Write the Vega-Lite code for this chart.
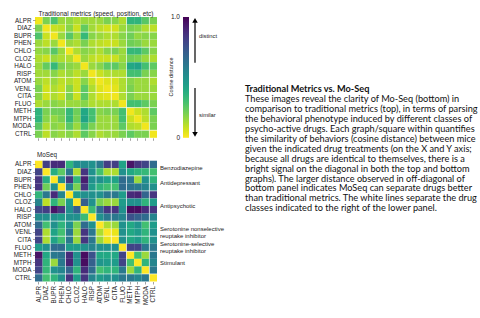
{
"$schema":"https://vega.github.io/schema/vega-lite/v6.json",
"width":122,"height":264.5,
"autosize":{"type":"none"},
"padding":{"left":35,"top":17,"right":323,"bottom":36.5},
"background":"white",
"config":{"view":{"stroke":null},"font":"Liberation Sans",
 "axis":{"labelFont":"Liberation Sans","labelFontSize":6.3,"labelColor":"#222","tickColor":"#666","tickSize":2.5,"tickWidth":0.6,"domain":false,"grid":false,"labelPadding":1.5}},
"title":{"text":"Traditional Metrics vs. Mo-Seq","subtitle":["These images reveal the clarity of Mo-Seq (bottom) in","comparison to traditional metrics (top), in terms of parsing","the behavioral phenotype induced by different classes of","psycho-active drugs. Each graph/square within quantifies","the similarity of behaviors (cosine distance) between mice","given the indicated drug treatments (on the X and Y axis;","because all drugs are identical to themselves, there is a","bright signal on the diagonal in both the top and bottom","graphs). The larger distance observed in off-diagonal of","bottom panel indicates MoSeq can separate drugs better","than traditional metrics. The white lines separate the drug","classes indicated to the right of the lower panel."],
 "anchor":"start","frame":"group","orient":"top","offset":0,"dx":210,"dy":203,"align":"left",
 "font":"Lato","fontSize":9.2,"fontWeight":"bold","color":"#111",
 "subtitleFont":"Lato","subtitleFontSize":9.2,"subtitleColor":"#111","subtitleLineHeight":9.9,"subtitlePadding":0.8},
"datasets":{
"trad":[
{"r":"ALPR","c":"ALPR","v":0.02},{"r":"ALPR","c":"DIAZ","v":0.2},{"r":"ALPR","c":"BUPR","v":0.28},{"r":"ALPR","c":"PHEN","v":0.15},{"r":"ALPR","c":"CHLO","v":0.16},{"r":"ALPR","c":"CLOZ","v":0.12},{"r":"ALPR","c":"HALO","v":0.15},{"r":"ALPR","c":"RISP","v":0.14},{"r":"ALPR","c":"ATOM","v":0.15},{"r":"ALPR","c":"VENL","v":0.2},{"r":"ALPR","c":"CITA","v":0.18},{"r":"ALPR","c":"FLUO","v":0.12},{"r":"ALPR","c":"METH","v":0.35},{"r":"ALPR","c":"MTPH","v":0.35},{"r":"ALPR","c":"MODA","v":0.26},{"r":"ALPR","c":"CTRL","v":0.2},
{"r":"DIAZ","c":"ALPR","v":0.2},{"r":"DIAZ","c":"DIAZ","v":0.02},{"r":"DIAZ","c":"BUPR","v":0.08},{"r":"DIAZ","c":"PHEN","v":0.1},{"r":"DIAZ","c":"CHLO","v":0.18},{"r":"DIAZ","c":"CLOZ","v":0.08},{"r":"DIAZ","c":"HALO","v":0.24},{"r":"DIAZ","c":"RISP","v":0.14},{"r":"DIAZ","c":"ATOM","v":0.1},{"r":"DIAZ","c":"VENL","v":0.07},{"r":"DIAZ","c":"CITA","v":0.07},{"r":"DIAZ","c":"FLUO","v":0.15},{"r":"DIAZ","c":"METH","v":0.2},{"r":"DIAZ","c":"MTPH","v":0.18},{"r":"DIAZ","c":"MODA","v":0.12},{"r":"DIAZ","c":"CTRL","v":0.1},
{"r":"BUPR","c":"ALPR","v":0.28},{"r":"BUPR","c":"DIAZ","v":0.08},{"r":"BUPR","c":"BUPR","v":0.02},{"r":"BUPR","c":"PHEN","v":0.15},{"r":"BUPR","c":"CHLO","v":0.26},{"r":"BUPR","c":"CLOZ","v":0.15},{"r":"BUPR","c":"HALO","v":0.33},{"r":"BUPR","c":"RISP","v":0.18},{"r":"BUPR","c":"ATOM","v":0.15},{"r":"BUPR","c":"VENL","v":0.12},{"r":"BUPR","c":"CITA","v":0.12},{"r":"BUPR","c":"FLUO","v":0.18},{"r":"BUPR","c":"METH","v":0.22},{"r":"BUPR","c":"MTPH","v":0.16},{"r":"BUPR","c":"MODA","v":0.18},{"r":"BUPR","c":"CTRL","v":0.18},
{"r":"PHEN","c":"ALPR","v":0.15},{"r":"PHEN","c":"DIAZ","v":0.1},{"r":"PHEN","c":"BUPR","v":0.15},{"r":"PHEN","c":"PHEN","v":0.02},{"r":"PHEN","c":"CHLO","v":0.15},{"r":"PHEN","c":"CLOZ","v":0.12},{"r":"PHEN","c":"HALO","v":0.2},{"r":"PHEN","c":"RISP","v":0.12},{"r":"PHEN","c":"ATOM","v":0.1},{"r":"PHEN","c":"VENL","v":0.08},{"r":"PHEN","c":"CITA","v":0.08},{"r":"PHEN","c":"FLUO","v":0.15},{"r":"PHEN","c":"METH","v":0.22},{"r":"PHEN","c":"MTPH","v":0.2},{"r":"PHEN","c":"MODA","v":0.15},{"r":"PHEN","c":"CTRL","v":0.15},
{"r":"CHLO","c":"ALPR","v":0.16},{"r":"CHLO","c":"DIAZ","v":0.18},{"r":"CHLO","c":"BUPR","v":0.26},{"r":"CHLO","c":"PHEN","v":0.15},{"r":"CHLO","c":"CHLO","v":0.02},{"r":"CHLO","c":"CLOZ","v":0.12},{"r":"CHLO","c":"HALO","v":0.18},{"r":"CHLO","c":"RISP","v":0.15},{"r":"CHLO","c":"ATOM","v":0.12},{"r":"CHLO","c":"VENL","v":0.18},{"r":"CHLO","c":"CITA","v":0.2},{"r":"CHLO","c":"FLUO","v":0.15},{"r":"CHLO","c":"METH","v":0.33},{"r":"CHLO","c":"MTPH","v":0.33},{"r":"CHLO","c":"MODA","v":0.25},{"r":"CHLO","c":"CTRL","v":0.18},
{"r":"CLOZ","c":"ALPR","v":0.12},{"r":"CLOZ","c":"DIAZ","v":0.08},{"r":"CLOZ","c":"BUPR","v":0.15},{"r":"CLOZ","c":"PHEN","v":0.12},{"r":"CLOZ","c":"CHLO","v":0.12},{"r":"CLOZ","c":"CLOZ","v":0.02},{"r":"CLOZ","c":"HALO","v":0.15},{"r":"CLOZ","c":"RISP","v":0.1},{"r":"CLOZ","c":"ATOM","v":0.08},{"r":"CLOZ","c":"VENL","v":0.08},{"r":"CLOZ","c":"CITA","v":0.08},{"r":"CLOZ","c":"FLUO","v":0.15},{"r":"CLOZ","c":"METH","v":0.22},{"r":"CLOZ","c":"MTPH","v":0.2},{"r":"CLOZ","c":"MODA","v":0.15},{"r":"CLOZ","c":"CTRL","v":0.12},
{"r":"HALO","c":"ALPR","v":0.15},{"r":"HALO","c":"DIAZ","v":0.24},{"r":"HALO","c":"BUPR","v":0.33},{"r":"HALO","c":"PHEN","v":0.2},{"r":"HALO","c":"CHLO","v":0.18},{"r":"HALO","c":"CLOZ","v":0.15},{"r":"HALO","c":"HALO","v":0.02},{"r":"HALO","c":"RISP","v":0.15},{"r":"HALO","c":"ATOM","v":0.18},{"r":"HALO","c":"VENL","v":0.25},{"r":"HALO","c":"CITA","v":0.25},{"r":"HALO","c":"FLUO","v":0.18},{"r":"HALO","c":"METH","v":0.4},{"r":"HALO","c":"MTPH","v":0.42},{"r":"HALO","c":"MODA","v":0.3},{"r":"HALO","c":"CTRL","v":0.25},
{"r":"RISP","c":"ALPR","v":0.14},{"r":"RISP","c":"DIAZ","v":0.14},{"r":"RISP","c":"BUPR","v":0.18},{"r":"RISP","c":"PHEN","v":0.12},{"r":"RISP","c":"CHLO","v":0.15},{"r":"RISP","c":"CLOZ","v":0.1},{"r":"RISP","c":"HALO","v":0.15},{"r":"RISP","c":"RISP","v":0.02},{"r":"RISP","c":"ATOM","v":0.08},{"r":"RISP","c":"VENL","v":0.12},{"r":"RISP","c":"CITA","v":0.12},{"r":"RISP","c":"FLUO","v":0.12},{"r":"RISP","c":"METH","v":0.3},{"r":"RISP","c":"MTPH","v":0.3},{"r":"RISP","c":"MODA","v":0.2},{"r":"RISP","c":"CTRL","v":0.18},
{"r":"ATOM","c":"ALPR","v":0.15},{"r":"ATOM","c":"DIAZ","v":0.1},{"r":"ATOM","c":"BUPR","v":0.15},{"r":"ATOM","c":"PHEN","v":0.1},{"r":"ATOM","c":"CHLO","v":0.12},{"r":"ATOM","c":"CLOZ","v":0.08},{"r":"ATOM","c":"HALO","v":0.18},{"r":"ATOM","c":"RISP","v":0.08},{"r":"ATOM","c":"ATOM","v":0.02},{"r":"ATOM","c":"VENL","v":0.05},{"r":"ATOM","c":"CITA","v":0.06},{"r":"ATOM","c":"FLUO","v":0.12},{"r":"ATOM","c":"METH","v":0.18},{"r":"ATOM","c":"MTPH","v":0.15},{"r":"ATOM","c":"MODA","v":0.15},{"r":"ATOM","c":"CTRL","v":0.12},
{"r":"VENL","c":"ALPR","v":0.2},{"r":"VENL","c":"DIAZ","v":0.07},{"r":"VENL","c":"BUPR","v":0.12},{"r":"VENL","c":"PHEN","v":0.08},{"r":"VENL","c":"CHLO","v":0.18},{"r":"VENL","c":"CLOZ","v":0.08},{"r":"VENL","c":"HALO","v":0.25},{"r":"VENL","c":"RISP","v":0.12},{"r":"VENL","c":"ATOM","v":0.05},{"r":"VENL","c":"VENL","v":0.02},{"r":"VENL","c":"CITA","v":0.04},{"r":"VENL","c":"FLUO","v":0.12},{"r":"VENL","c":"METH","v":0.2},{"r":"VENL","c":"MTPH","v":0.15},{"r":"VENL","c":"MODA","v":0.15},{"r":"VENL","c":"CTRL","v":0.15},
{"r":"CITA","c":"ALPR","v":0.18},{"r":"CITA","c":"DIAZ","v":0.07},{"r":"CITA","c":"BUPR","v":0.12},{"r":"CITA","c":"PHEN","v":0.08},{"r":"CITA","c":"CHLO","v":0.2},{"r":"CITA","c":"CLOZ","v":0.08},{"r":"CITA","c":"HALO","v":0.25},{"r":"CITA","c":"RISP","v":0.12},{"r":"CITA","c":"ATOM","v":0.06},{"r":"CITA","c":"VENL","v":0.04},{"r":"CITA","c":"CITA","v":0.02},{"r":"CITA","c":"FLUO","v":0.12},{"r":"CITA","c":"METH","v":0.2},{"r":"CITA","c":"MTPH","v":0.15},{"r":"CITA","c":"MODA","v":0.15},{"r":"CITA","c":"CTRL","v":0.15},
{"r":"FLUO","c":"ALPR","v":0.12},{"r":"FLUO","c":"DIAZ","v":0.15},{"r":"FLUO","c":"BUPR","v":0.18},{"r":"FLUO","c":"PHEN","v":0.15},{"r":"FLUO","c":"CHLO","v":0.15},{"r":"FLUO","c":"CLOZ","v":0.15},{"r":"FLUO","c":"HALO","v":0.18},{"r":"FLUO","c":"RISP","v":0.12},{"r":"FLUO","c":"ATOM","v":0.12},{"r":"FLUO","c":"VENL","v":0.12},{"r":"FLUO","c":"CITA","v":0.12},{"r":"FLUO","c":"FLUO","v":0.02},{"r":"FLUO","c":"METH","v":0.3},{"r":"FLUO","c":"MTPH","v":0.3},{"r":"FLUO","c":"MODA","v":0.25},{"r":"FLUO","c":"CTRL","v":0.2},
{"r":"METH","c":"ALPR","v":0.35},{"r":"METH","c":"DIAZ","v":0.2},{"r":"METH","c":"BUPR","v":0.22},{"r":"METH","c":"PHEN","v":0.22},{"r":"METH","c":"CHLO","v":0.33},{"r":"METH","c":"CLOZ","v":0.22},{"r":"METH","c":"HALO","v":0.4},{"r":"METH","c":"RISP","v":0.3},{"r":"METH","c":"ATOM","v":0.18},{"r":"METH","c":"VENL","v":0.2},{"r":"METH","c":"CITA","v":0.2},{"r":"METH","c":"FLUO","v":0.3},{"r":"METH","c":"METH","v":0.02},{"r":"METH","c":"MTPH","v":0.08},{"r":"METH","c":"MODA","v":0.12},{"r":"METH","c":"CTRL","v":0.25},
{"r":"MTPH","c":"ALPR","v":0.35},{"r":"MTPH","c":"DIAZ","v":0.18},{"r":"MTPH","c":"BUPR","v":0.16},{"r":"MTPH","c":"PHEN","v":0.2},{"r":"MTPH","c":"CHLO","v":0.33},{"r":"MTPH","c":"CLOZ","v":0.2},{"r":"MTPH","c":"HALO","v":0.42},{"r":"MTPH","c":"RISP","v":0.3},{"r":"MTPH","c":"ATOM","v":0.15},{"r":"MTPH","c":"VENL","v":0.15},{"r":"MTPH","c":"CITA","v":0.15},{"r":"MTPH","c":"FLUO","v":0.3},{"r":"MTPH","c":"METH","v":0.08},{"r":"MTPH","c":"MTPH","v":0.02},{"r":"MTPH","c":"MODA","v":0.1},{"r":"MTPH","c":"CTRL","v":0.2},
{"r":"MODA","c":"ALPR","v":0.26},{"r":"MODA","c":"DIAZ","v":0.12},{"r":"MODA","c":"BUPR","v":0.18},{"r":"MODA","c":"PHEN","v":0.15},{"r":"MODA","c":"CHLO","v":0.25},{"r":"MODA","c":"CLOZ","v":0.15},{"r":"MODA","c":"HALO","v":0.3},{"r":"MODA","c":"RISP","v":0.2},{"r":"MODA","c":"ATOM","v":0.15},{"r":"MODA","c":"VENL","v":0.15},{"r":"MODA","c":"CITA","v":0.15},{"r":"MODA","c":"FLUO","v":0.25},{"r":"MODA","c":"METH","v":0.12},{"r":"MODA","c":"MTPH","v":0.1},{"r":"MODA","c":"MODA","v":0.02},{"r":"MODA","c":"CTRL","v":0.2},
{"r":"CTRL","c":"ALPR","v":0.2},{"r":"CTRL","c":"DIAZ","v":0.1},{"r":"CTRL","c":"BUPR","v":0.18},{"r":"CTRL","c":"PHEN","v":0.15},{"r":"CTRL","c":"CHLO","v":0.18},{"r":"CTRL","c":"CLOZ","v":0.12},{"r":"CTRL","c":"HALO","v":0.25},{"r":"CTRL","c":"RISP","v":0.18},{"r":"CTRL","c":"ATOM","v":0.12},{"r":"CTRL","c":"VENL","v":0.15},{"r":"CTRL","c":"CITA","v":0.15},{"r":"CTRL","c":"FLUO","v":0.2},{"r":"CTRL","c":"METH","v":0.25},{"r":"CTRL","c":"MTPH","v":0.2},{"r":"CTRL","c":"MODA","v":0.2},{"r":"CTRL","c":"CTRL","v":0.02}
],
"moseq":[
{"r":"ALPR","c":"ALPR","v":0},{"r":"ALPR","c":"DIAZ","v":0.82},{"r":"ALPR","c":"BUPR","v":0.88},{"r":"ALPR","c":"PHEN","v":0.88},{"r":"ALPR","c":"CHLO","v":0.35},{"r":"ALPR","c":"CLOZ","v":0.52},{"r":"ALPR","c":"HALO","v":0.52},{"r":"ALPR","c":"RISP","v":0.5},{"r":"ALPR","c":"ATOM","v":0.6},{"r":"ALPR","c":"VENL","v":0.82},{"r":"ALPR","c":"CITA","v":0.82},{"r":"ALPR","c":"FLUO","v":0.42},{"r":"ALPR","c":"METH","v":0.95},{"r":"ALPR","c":"MTPH","v":0.85},{"r":"ALPR","c":"MODA","v":0.8},{"r":"ALPR","c":"CTRL","v":0.65},
{"r":"DIAZ","c":"ALPR","v":0.8},{"r":"DIAZ","c":"DIAZ","v":0},{"r":"DIAZ","c":"BUPR","v":0.38},{"r":"DIAZ","c":"PHEN","v":0.25},{"r":"DIAZ","c":"CHLO","v":0.6},{"r":"DIAZ","c":"CLOZ","v":0.12},{"r":"DIAZ","c":"HALO","v":0.85},{"r":"DIAZ","c":"RISP","v":0.5},{"r":"DIAZ","c":"ATOM","v":0.3},{"r":"DIAZ","c":"VENL","v":0.12},{"r":"DIAZ","c":"CITA","v":0.12},{"r":"DIAZ","c":"FLUO","v":0.5},{"r":"DIAZ","c":"METH","v":0.4},{"r":"DIAZ","c":"MTPH","v":0.35},{"r":"DIAZ","c":"MODA","v":0.33},{"r":"DIAZ","c":"CTRL","v":0.3},
{"r":"BUPR","c":"ALPR","v":0.85},{"r":"BUPR","c":"DIAZ","v":0.38},{"r":"BUPR","c":"BUPR","v":0},{"r":"BUPR","c":"PHEN","v":0.5},{"r":"BUPR","c":"CHLO","v":0.85},{"r":"BUPR","c":"CLOZ","v":0.35},{"r":"BUPR","c":"HALO","v":0.92},{"r":"BUPR","c":"RISP","v":0.5},{"r":"BUPR","c":"ATOM","v":0.5},{"r":"BUPR","c":"VENL","v":0.42},{"r":"BUPR","c":"CITA","v":0.42},{"r":"BUPR","c":"FLUO","v":0.65},{"r":"BUPR","c":"METH","v":0.6},{"r":"BUPR","c":"MTPH","v":0.15},{"r":"BUPR","c":"MODA","v":0.5},{"r":"BUPR","c":"CTRL","v":0.35},
{"r":"PHEN","c":"ALPR","v":0.85},{"r":"PHEN","c":"DIAZ","v":0.22},{"r":"PHEN","c":"BUPR","v":0.5},{"r":"PHEN","c":"PHEN","v":0},{"r":"PHEN","c":"CHLO","v":0.55},{"r":"PHEN","c":"CLOZ","v":0.2},{"r":"PHEN","c":"HALO","v":0.85},{"r":"PHEN","c":"RISP","v":0.45},{"r":"PHEN","c":"ATOM","v":0.35},{"r":"PHEN","c":"VENL","v":0.3},{"r":"PHEN","c":"CITA","v":0.3},{"r":"PHEN","c":"FLUO","v":0.65},{"r":"PHEN","c":"METH","v":0.62},{"r":"PHEN","c":"MTPH","v":0.6},{"r":"PHEN","c":"MODA","v":0.55},{"r":"PHEN","c":"CTRL","v":0.5},
{"r":"CHLO","c":"ALPR","v":0.35},{"r":"CHLO","c":"DIAZ","v":0.6},{"r":"CHLO","c":"BUPR","v":0.88},{"r":"CHLO","c":"PHEN","v":0.55},{"r":"CHLO","c":"CHLO","v":0},{"r":"CHLO","c":"CLOZ","v":0.45},{"r":"CHLO","c":"HALO","v":0.5},{"r":"CHLO","c":"RISP","v":0.5},{"r":"CHLO","c":"ATOM","v":0.5},{"r":"CHLO","c":"VENL","v":0.6},{"r":"CHLO","c":"CITA","v":0.6},{"r":"CHLO","c":"FLUO","v":0.45},{"r":"CHLO","c":"METH","v":0.88},{"r":"CHLO","c":"MTPH","v":0.9},{"r":"CHLO","c":"MODA","v":0.68},{"r":"CHLO","c":"CTRL","v":0.85},
{"r":"CLOZ","c":"ALPR","v":0.55},{"r":"CLOZ","c":"DIAZ","v":0.1},{"r":"CLOZ","c":"BUPR","v":0.35},{"r":"CLOZ","c":"PHEN","v":0.2},{"r":"CLOZ","c":"CHLO","v":0.45},{"r":"CLOZ","c":"CLOZ","v":0},{"r":"CLOZ","c":"HALO","v":0.7},{"r":"CLOZ","c":"RISP","v":0.5},{"r":"CLOZ","c":"ATOM","v":0.2},{"r":"CLOZ","c":"VENL","v":0.15},{"r":"CLOZ","c":"CITA","v":0.15},{"r":"CLOZ","c":"FLUO","v":0.45},{"r":"CLOZ","c":"METH","v":0.5},{"r":"CLOZ","c":"MTPH","v":0.5},{"r":"CLOZ","c":"MODA","v":0.35},{"r":"CLOZ","c":"CTRL","v":0.45},
{"r":"HALO","c":"ALPR","v":0.78},{"r":"HALO","c":"DIAZ","v":0.82},{"r":"HALO","c":"BUPR","v":0.95},{"r":"HALO","c":"PHEN","v":0.85},{"r":"HALO","c":"CHLO","v":0.5},{"r":"HALO","c":"CLOZ","v":0.7},{"r":"HALO","c":"HALO","v":0},{"r":"HALO","c":"RISP","v":0.32},{"r":"HALO","c":"ATOM","v":0.65},{"r":"HALO","c":"VENL","v":0.85},{"r":"HALO","c":"CITA","v":0.85},{"r":"HALO","c":"FLUO","v":0.5},{"r":"HALO","c":"METH","v":0.97},{"r":"HALO","c":"MTPH","v":0.97},{"r":"HALO","c":"MODA","v":0.88},{"r":"HALO","c":"CTRL","v":0.85},
{"r":"RISP","c":"ALPR","v":0.52},{"r":"RISP","c":"DIAZ","v":0.5},{"r":"RISP","c":"BUPR","v":0.5},{"r":"RISP","c":"PHEN","v":0.45},{"r":"RISP","c":"CHLO","v":0.5},{"r":"RISP","c":"CLOZ","v":0.5},{"r":"RISP","c":"HALO","v":0.32},{"r":"RISP","c":"RISP","v":0},{"r":"RISP","c":"ATOM","v":0.5},{"r":"RISP","c":"VENL","v":0.6},{"r":"RISP","c":"CITA","v":0.6},{"r":"RISP","c":"FLUO","v":0.55},{"r":"RISP","c":"METH","v":0.75},{"r":"RISP","c":"MTPH","v":0.7},{"r":"RISP","c":"MODA","v":0.65},{"r":"RISP","c":"CTRL","v":0.55},
{"r":"ATOM","c":"ALPR","v":0.65},{"r":"ATOM","c":"DIAZ","v":0.3},{"r":"ATOM","c":"BUPR","v":0.5},{"r":"ATOM","c":"PHEN","v":0.35},{"r":"ATOM","c":"CHLO","v":0.5},{"r":"ATOM","c":"CLOZ","v":0.2},{"r":"ATOM","c":"HALO","v":0.65},{"r":"ATOM","c":"RISP","v":0.5},{"r":"ATOM","c":"ATOM","v":0},{"r":"ATOM","c":"VENL","v":0.12},{"r":"ATOM","c":"CITA","v":0.15},{"r":"ATOM","c":"FLUO","v":0.5},{"r":"ATOM","c":"METH","v":0.4},{"r":"ATOM","c":"MTPH","v":0.48},{"r":"ATOM","c":"MODA","v":0.3},{"r":"ATOM","c":"CTRL","v":0.45},
{"r":"VENL","c":"ALPR","v":0.8},{"r":"VENL","c":"DIAZ","v":0.12},{"r":"VENL","c":"BUPR","v":0.42},{"r":"VENL","c":"PHEN","v":0.3},{"r":"VENL","c":"CHLO","v":0.6},{"r":"VENL","c":"CLOZ","v":0.15},{"r":"VENL","c":"HALO","v":0.85},{"r":"VENL","c":"RISP","v":0.6},{"r":"VENL","c":"ATOM","v":0.12},{"r":"VENL","c":"VENL","v":0},{"r":"VENL","c":"CITA","v":0.03},{"r":"VENL","c":"FLUO","v":0.5},{"r":"VENL","c":"METH","v":0.4},{"r":"VENL","c":"MTPH","v":0.45},{"r":"VENL","c":"MODA","v":0.35},{"r":"VENL","c":"CTRL","v":0.5},
{"r":"CITA","c":"ALPR","v":0.8},{"r":"CITA","c":"DIAZ","v":0.12},{"r":"CITA","c":"BUPR","v":0.42},{"r":"CITA","c":"PHEN","v":0.3},{"r":"CITA","c":"CHLO","v":0.6},{"r":"CITA","c":"CLOZ","v":0.15},{"r":"CITA","c":"HALO","v":0.85},{"r":"CITA","c":"RISP","v":0.6},{"r":"CITA","c":"ATOM","v":0.15},{"r":"CITA","c":"VENL","v":0.03},{"r":"CITA","c":"CITA","v":0},{"r":"CITA","c":"FLUO","v":0.5},{"r":"CITA","c":"METH","v":0.4},{"r":"CITA","c":"MTPH","v":0.45},{"r":"CITA","c":"MODA","v":0.35},{"r":"CITA","c":"CTRL","v":0.5},
{"r":"FLUO","c":"ALPR","v":0.45},{"r":"FLUO","c":"DIAZ","v":0.5},{"r":"FLUO","c":"BUPR","v":0.65},{"r":"FLUO","c":"PHEN","v":0.65},{"r":"FLUO","c":"CHLO","v":0.45},{"r":"FLUO","c":"CLOZ","v":0.45},{"r":"FLUO","c":"HALO","v":0.5},{"r":"FLUO","c":"RISP","v":0.55},{"r":"FLUO","c":"ATOM","v":0.5},{"r":"FLUO","c":"VENL","v":0.5},{"r":"FLUO","c":"CITA","v":0.5},{"r":"FLUO","c":"FLUO","v":0},{"r":"FLUO","c":"METH","v":0.8},{"r":"FLUO","c":"MTPH","v":0.8},{"r":"FLUO","c":"MODA","v":0.6},{"r":"FLUO","c":"CTRL","v":0.6},
{"r":"METH","c":"ALPR","v":0.95},{"r":"METH","c":"DIAZ","v":0.4},{"r":"METH","c":"BUPR","v":0.6},{"r":"METH","c":"PHEN","v":0.62},{"r":"METH","c":"CHLO","v":0.88},{"r":"METH","c":"CLOZ","v":0.5},{"r":"METH","c":"HALO","v":0.97},{"r":"METH","c":"RISP","v":0.75},{"r":"METH","c":"ATOM","v":0.4},{"r":"METH","c":"VENL","v":0.4},{"r":"METH","c":"CITA","v":0.4},{"r":"METH","c":"FLUO","v":0.8},{"r":"METH","c":"METH","v":0},{"r":"METH","c":"MTPH","v":0.3},{"r":"METH","c":"MODA","v":0.15},{"r":"METH","c":"CTRL","v":0.6},
{"r":"MTPH","c":"ALPR","v":0.85},{"r":"MTPH","c":"DIAZ","v":0.35},{"r":"MTPH","c":"BUPR","v":0.15},{"r":"MTPH","c":"PHEN","v":0.6},{"r":"MTPH","c":"CHLO","v":0.9},{"r":"MTPH","c":"CLOZ","v":0.5},{"r":"MTPH","c":"HALO","v":0.97},{"r":"MTPH","c":"RISP","v":0.7},{"r":"MTPH","c":"ATOM","v":0.48},{"r":"MTPH","c":"VENL","v":0.45},{"r":"MTPH","c":"CITA","v":0.45},{"r":"MTPH","c":"FLUO","v":0.8},{"r":"MTPH","c":"METH","v":0.3},{"r":"MTPH","c":"MTPH","v":0},{"r":"MTPH","c":"MODA","v":0.35},{"r":"MTPH","c":"CTRL","v":0.55},
{"r":"MODA","c":"ALPR","v":0.8},{"r":"MODA","c":"DIAZ","v":0.33},{"r":"MODA","c":"BUPR","v":0.5},{"r":"MODA","c":"PHEN","v":0.55},{"r":"MODA","c":"CHLO","v":0.68},{"r":"MODA","c":"CLOZ","v":0.35},{"r":"MODA","c":"HALO","v":0.88},{"r":"MODA","c":"RISP","v":0.65},{"r":"MODA","c":"ATOM","v":0.3},{"r":"MODA","c":"VENL","v":0.35},{"r":"MODA","c":"CITA","v":0.35},{"r":"MODA","c":"FLUO","v":0.6},{"r":"MODA","c":"METH","v":0.15},{"r":"MODA","c":"MTPH","v":0.35},{"r":"MODA","c":"MODA","v":0},{"r":"MODA","c":"CTRL","v":0.6},
{"r":"CTRL","c":"ALPR","v":0.65},{"r":"CTRL","c":"DIAZ","v":0.3},{"r":"CTRL","c":"BUPR","v":0.35},{"r":"CTRL","c":"PHEN","v":0.5},{"r":"CTRL","c":"CHLO","v":0.85},{"r":"CTRL","c":"CLOZ","v":0.45},{"r":"CTRL","c":"HALO","v":0.85},{"r":"CTRL","c":"RISP","v":0.55},{"r":"CTRL","c":"ATOM","v":0.45},{"r":"CTRL","c":"VENL","v":0.5},{"r":"CTRL","c":"CITA","v":0.5},{"r":"CTRL","c":"FLUO","v":0.6},{"r":"CTRL","c":"METH","v":0.6},{"r":"CTRL","c":"MTPH","v":0.55},{"r":"CTRL","c":"MODA","v":0.6},{"r":"CTRL","c":"CTRL","v":0}
],
"seps":[{"b":"BUPR"},{"b":"CHLO"},{"b":"ATOM"},{"b":"CITA"},{"b":"METH"},{"b":"CTRL"}],
"classes":[{"cls":"Benzodiazepine","at":"DIAZ"},{"cls":"Antidepressant","at":"PHEN"},{"cls":"Antipsychotic","at":"HALO"},{"cls":"Serotonine nonselective\nreuptake inhibitor","at":"VENL"},{"cls":"Serotonine-selective\nreuptake inhibitor","at":"FLUO"}]
},
"resolve":{"scale":{"x":"independent","y":"independent"}},
"layer":[
{"layer":[
 {"data":{"name":"trad"},"mark":{"type":"rect"},
  "encoding":{
   "x":{"field":"c","type":"nominal","title":null,"scale":{"domain":["ALPR","DIAZ","BUPR","PHEN","CHLO","CLOZ","HALO","RISP","ATOM","VENL","CITA","FLUO","METH","MTPH","MODA","CTRL"],"paddingInner":0,"paddingOuter":0},"axis":{"orient":"bottom","offset":-143.7,"labels":false}},
   "y":{"field":"r","type":"nominal","title":null,"scale":{"domain":["ALPR","DIAZ","BUPR","PHEN","CHLO","CLOZ","HALO","RISP","ATOM","VENL","CITA","FLUO","METH","MTPH","MODA","CTRL"],"range":[0,120.8],"paddingInner":0,"paddingOuter":0},"axis":{"orient":"left"}},
   "color":{"field":"v","type":"quantitative","scale":{"domain":[0,1],"scheme":"viridis","reverse":true},
    "legend":{"orient":"none","legendX":134,"legendY":0,"direction":"vertical","gradientLength":120.8,"gradientThickness":6,"gradientStrokeWidth":0,"title":"Cosine distance","titleOrient":"left","titleAnchor":"middle","titleFontSize":5.5,"titleFontWeight":"normal","titleFont":"Liberation Sans","titleColor":"#222","titlePadding":8,"values":[0,1],"labelExpr":"datum.value > 0.5 ? '1.0' : '0'","labelOffset":-9,"labelFontSize":6.5,"labelFont":"Liberation Sans","labelColor":"#222","padding":0,
     "encode":{"labels":{"update":{"align":{"value":"right"},"baseline":{"value":"middle"}}}}}}
  }},
 {"data":{"name":"seps"},"mark":{"type":"rule","color":"white","strokeWidth":0.8,"opacity":0.75},"encoding":{"y":{"field":"b","type":"nominal","bandPosition":0}}},
 {"data":{"values":[{"t":"Traditional metrics (speed, position, etc)"}]},"mark":{"type":"text","fontSize":6.5,"font":"Liberation Sans","color":"#222","align":"center","baseline":"alphabetic","dy":-1.5},
  "encoding":{"x":{"datum":"ATOM","bandPosition":0},"y":{"datum":"ALPR","bandPosition":0},"text":{"field":"t"}}},
 {"data":{"values":[{"a":"up"}]},"mark":{"type":"rule","color":"black","strokeWidth":1.2,"xOffset":38},
  "encoding":{"x":{"datum":"CTRL","bandPosition":1},"y":{"datum":"ALPR","bandPosition":0.7},"y2":{"datum":"HALO","bandPosition":0.05}}},
 {"data":{"values":[{"a":"up"}]},"mark":{"type":"point","shape":"triangle-up","filled":true,"color":"black","opacity":1,"size":30,"xOffset":38},
  "encoding":{"x":{"datum":"CTRL","bandPosition":1},"y":{"datum":"ALPR","bandPosition":0.45}}},
 {"data":{"values":[{"a":"down"}]},"mark":{"type":"rule","color":"black","strokeWidth":1.2,"xOffset":38},
  "encoding":{"x":{"datum":"CTRL","bandPosition":1},"y":{"datum":"VENL","bandPosition":0.4},"y2":{"datum":"CTRL","bandPosition":0.3}}},
 {"data":{"values":[{"a":"down"}]},"mark":{"type":"point","shape":"triangle-down","filled":true,"color":"black","opacity":1,"size":30,"xOffset":38},
  "encoding":{"x":{"datum":"CTRL","bandPosition":1},"y":{"datum":"CTRL","bandPosition":0.55}}},
 {"data":{"values":[{"t":"distinct"}]},"mark":{"type":"text","fontSize":5.8,"font":"Liberation Sans","color":"#222","align":"left","baseline":"middle","dx":42},
  "encoding":{"x":{"datum":"CTRL","bandPosition":1},"y":{"datum":"BUPR","bandPosition":0.55},"text":{"field":"t"}}},
 {"data":{"values":[{"t":"similar"}]},"mark":{"type":"text","fontSize":5.8,"font":"Liberation Sans","color":"#222","align":"left","baseline":"middle","dx":42},
  "encoding":{"x":{"datum":"CTRL","bandPosition":1},"y":{"datum":"MTPH","bandPosition":0},"text":{"field":"t"}}}
]},
{"layer":[
 {"data":{"name":"moseq"},"mark":{"type":"rect"},
  "encoding":{
   "x":{"field":"c","type":"nominal","title":null,"scale":{"domain":["ALPR","DIAZ","BUPR","PHEN","CHLO","CLOZ","HALO","RISP","ATOM","VENL","CITA","FLUO","METH","MTPH","MODA","CTRL"],"paddingInner":0,"paddingOuter":0},"axis":{"orient":"bottom","labelAngle":-90}},
   "y":{"field":"r","type":"nominal","title":null,"scale":{"domain":["ALPR","DIAZ","BUPR","PHEN","CHLO","CLOZ","HALO","RISP","ATOM","VENL","CITA","FLUO","METH","MTPH","MODA","CTRL"],"range":[143.7,264.5],"paddingInner":0,"paddingOuter":0},"axis":{"orient":"left"}},
   "color":{"field":"v","type":"quantitative","scale":{"domain":[0,1],"scheme":"viridis","reverse":true}}
  }},
 {"data":{"name":"seps"},"mark":{"type":"rule","color":"white","strokeWidth":0.8,"opacity":0.75},"encoding":{"y":{"field":"b","type":"nominal","bandPosition":0}}},
 {"data":{"name":"seps"},"mark":{"type":"rule","color":"white","strokeWidth":0.8,"opacity":0.75},"encoding":{"x":{"field":"b","type":"nominal","bandPosition":0}}},
 {"data":{"values":[{"t":"MoSeq"}]},"mark":{"type":"text","fontSize":6.3,"font":"Liberation Sans","color":"#222","align":"left","baseline":"alphabetic","dx":2,"dy":-4},
  "encoding":{"x":{"datum":"ALPR","bandPosition":0},"y":{"datum":"ALPR","bandPosition":0},"text":{"field":"t"}}},
 {"data":{"name":"classes"},"mark":{"type":"text","fontSize":6,"font":"Liberation Sans","color":"#222","align":"left","baseline":"middle","dx":3,"lineBreak":"\n","lineHeight":7.5},
  "encoding":{"x":{"datum":"CTRL","bandPosition":1},"y":{"field":"at","type":"nominal","bandPosition":0},"text":{"field":"cls"}}},
 {"data":{"values":[{"cls":"Stimulant","at":"MTPH"}]},"mark":{"type":"text","fontSize":6,"font":"Liberation Sans","color":"#222","align":"left","baseline":"middle","dx":3},
  "encoding":{"x":{"datum":"CTRL","bandPosition":1},"y":{"field":"at","type":"nominal"},"text":{"field":"cls"}}}
]}
]
}
